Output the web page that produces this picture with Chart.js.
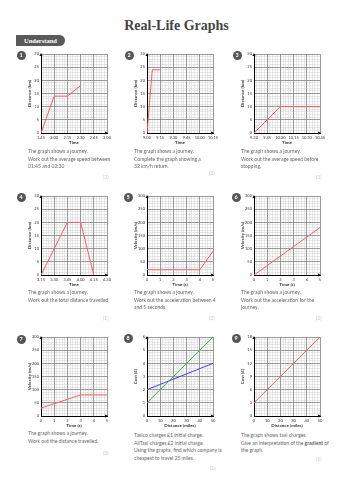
<!DOCTYPE html>
<html>
<head>
<meta charset="utf-8">
<script src="https://cdn.jsdelivr.net/npm/chart.js@4.4.1/dist/chart.umd.min.js"></script>
<style>
  body { margin: 0; background: #fff; width: 353px; height: 500px; position: relative; overflow: hidden; font-family: Lato, "Open Sans", sans-serif; }
  .title { position: absolute; left: 0; width: 353px; top: 18px; text-align: center; font-family: "Liberation Serif", serif; font-weight: bold; font-size: 14px; color: #444; }
  .badge { position: absolute; left: 16px; top: 35px; width: 49px; height: 11px; background: #5a5a5a; color: #fff; border-radius: 0 6px 6px 0; font-family: "Liberation Serif", serif; font-weight: bold; font-size: 6.5px; line-height: 11px; text-align: center; }
  .num { position: absolute; width: 9px; height: 9px; border-radius: 50%; background: #555; color: #fff; font-size: 5.5px; font-weight: bold; line-height: 9px; text-align: center; }
  canvas { position: absolute; }
  .txt { position: absolute; font-size: 5px; line-height: 7.6px; color: #666; white-space: nowrap; }
  .mark { position: absolute; font-size: 5px; color: #c8c8c8; }
</style>
</head>
<body>
<div class="title">Real-Life Graphs</div>
<div class="badge">Understand</div>

<script>
// ---- data ----
// 1: journey, minutes after 1.45
const j1Minutes = [0, 15, 30, 45];
const j1Km = [0, 14, 14, 18];
const j1TimeTicks = ['1.45', '2.00', '2.15', '2.30', '2.45', '3.00'];
// 2: journey, minutes after 9.00
const j2Minutes = [0, 6, 15];
const j2Km = [0, 24, 24];
const j2TimeTicks = ['9.00', '9.15', '9.30', '9.45', '10.00', '10.15'];
// 3: journey, minutes after 9.30
const j3Minutes = [0, 30, 75];
const j3Km = [0, 10, 10];
const j3TimeTicks = ['9.30', '9.45', '10.00', '10.15', '10.30', '10.45'];
// 4: journey, minutes after 3.15
const j4Minutes = [0, 30, 45, 60];
const j4Km = [0, 20, 20, 0];
const j4TimeTicks = ['3.15', '3.30', '3.45', '4.00', '4.15', '4.30'];
// 5-7: velocity-time
const v5Seconds = [0, 4, 5];
const v5Velocity = [20, 20, 90];
const v6Seconds = [0, 5];
const v6Velocity = [0, 180];
const v7Seconds = [0, 3, 5];
const v7Velocity = [30, 80, 80];
// 8: taxi companies
const taxicoMiles = [0, 50];
const taxicoCost = [1, 6];
const allTaxiMiles = [0, 50];
const allTaxiCost = [2, 4];
// 9: taxi charges
const taxiMiles = [0, 50];
const taxiCost = [3, 18];

const RED = '#f06068', GREEN = '#4caf50', BLUE = '#4040f0';
const tickFont = { family: 'Lato', size: 4 };
const titleFont = { family: 'Lato', size: 4.5, weight: 'bold' };

const colX = [41, 147, 254];
const rowY = [54, 196, 337];
const PW = 66, PH = 79;

const arrows = {
  id: 'arrows',
  afterDraw(chart) {
    const { ctx, chartArea: a } = chart;
    ctx.save();
    ctx.fillStyle = '#000';
    ctx.beginPath();
    ctx.moveTo(a.left - 1.5, a.top + 2); ctx.lineTo(a.left + 1.5, a.top + 2); ctx.lineTo(a.left, a.top - 1); ctx.fill();
    ctx.beginPath();
    ctx.moveTo(a.right - 2, a.bottom - 1.5); ctx.lineTo(a.right - 2, a.bottom + 1.5); ctx.lineTo(a.right + 1, a.bottom); ctx.fill();
    ctx.restore();
  }
};

function pts(xs, ys) { return xs.map((x, i) => ({ x: x, y: ys[i] })); }

function panel(col, row, o) {
  const cv = document.createElement('canvas');
  cv.width = PW + 28; cv.height = PH + 16;
  cv.style.left = (colX[col] - 22) + 'px';
  cv.style.top = (rowY[row] - 4) + 'px';
  document.body.appendChild(cv);
  new Chart(cv.getContext('2d'), {
    type: 'line',
    data: { datasets: o.sets.map(s => ({ data: s.data, borderColor: s.color, borderWidth: 1, pointRadius: 0, tension: 0 })) },
    options: {
      responsive: false, animation: false, devicePixelRatio: 1,
      layout: { padding: { left: 8, top: 4, right: 6, bottom: 0 } },
      plugins: { legend: { display: false }, tooltip: { enabled: false } },
      scales: {
        xm: { type: 'linear', position: 'bottom', min: o.x[0], max: o.x[1], z: -2,
          ticks: { display: false, stepSize: o.x[3] }, grid: { color: '#d0d0d0', lineWidth: 0.5, drawTicks: false },
          border: { display: false }, afterFit: s => { s.height = 0; s.paddingLeft = 0; s.paddingRight = 0; } },
        ym: { type: 'linear', position: 'left', min: o.y[0], max: o.y[1], z: -2,
          ticks: { display: false, stepSize: o.y[3] }, grid: { color: '#d0d0d0', lineWidth: 0.5, drawTicks: false },
          border: { display: false }, afterFit: s => { s.width = 0; s.paddingTop = 0; s.paddingBottom = 0; } },
        x: { type: 'linear', position: 'bottom', min: o.x[0], max: o.x[1], z: -1,
          ticks: { stepSize: o.x[2], font: tickFont, color: '#333', padding: 2, maxRotation: 0, autoSkip: false,
            callback: (v, i) => o.xLabels ? o.xLabels[i] : v },
          grid: { color: '#7a7a7a', lineWidth: 0.7, drawTicks: false },
          border: { color: '#000', width: 1 },
          title: { display: true, text: o.xTitle, font: titleFont, color: '#333', padding: 0 },
          afterFit: s => { s.height = 12; s.paddingLeft = 0; s.paddingRight = 0; } },
        y: { type: 'linear', position: 'left', min: o.y[0], max: o.y[1], z: -1,
          ticks: { stepSize: o.y[2], font: tickFont, color: '#333', padding: 2 },
          grid: { color: '#7a7a7a', lineWidth: 0.7, drawTicks: false },
          border: { color: '#000', width: 1 },
          title: { display: true, text: o.yTitle, font: titleFont, color: '#333', padding: 0 },
          afterFit: s => { s.width = 14; s.paddingTop = 0; s.paddingBottom = 0; } }
      }
    },
    plugins: [arrows]
  });
}

function label(n, x, y) {
  const d = document.createElement('div');
  d.className = 'num'; d.textContent = n;
  d.style.left = (x - 4.5) + 'px'; d.style.top = (y - 4.5) + 'px';
  document.body.appendChild(d);
}
function text(html, x, y) {
  const d = document.createElement('div');
  d.className = 'txt'; d.innerHTML = html;
  d.style.left = x + 'px'; d.style.top = (y - 3.8) + 'px';
  document.body.appendChild(d);
}
function mark(m, x, y) {
  const d = document.createElement('div');
  d.className = 'mark'; d.textContent = m;
  d.style.left = (x - 4) + 'px'; d.style.top = (y - 3) + 'px';
  document.body.appendChild(d);
}

const distAxes = { y: [0, 30, 5, 1], yTitle: 'Distance (km)', xTitle: 'Time' };
const velAxes = { x: [0, 5, 1, 0.2], y: [0, 300, 50, 10], yTitle: 'Velocity (m/s)', xTitle: 'Time (s)' };

panel(0, 0, { ...distAxes, x: [0, 75, 15, 3], xLabels: j1TimeTicks, sets: [{ data: pts(j1Minutes, j1Km), color: RED }] });
panel(1, 0, { ...distAxes, x: [0, 75, 15, 3], xLabels: j2TimeTicks, sets: [{ data: pts(j2Minutes, j2Km), color: RED }] });
panel(2, 0, { ...distAxes, x: [0, 75, 15, 3], xLabels: j3TimeTicks, sets: [{ data: pts(j3Minutes, j3Km), color: RED }] });
panel(0, 1, { ...distAxes, x: [0, 75, 15, 3], xLabels: j4TimeTicks, sets: [{ data: pts(j4Minutes, j4Km), color: RED }] });
panel(1, 1, { ...velAxes, sets: [{ data: pts(v5Seconds, v5Velocity), color: RED }] });
panel(2, 1, { ...velAxes, sets: [{ data: pts(v6Seconds, v6Velocity), color: RED }] });
panel(0, 2, { ...velAxes, sets: [{ data: pts(v7Seconds, v7Velocity), color: RED }] });
panel(1, 2, { x: [0, 50, 10, 2], y: [0, 6, 1, 0.2], yTitle: 'Cost (£)', xTitle: 'Distance (miles)',
  sets: [{ data: pts(taxicoMiles, taxicoCost), color: GREEN }, { data: pts(allTaxiMiles, allTaxiCost), color: BLUE }] });
panel(2, 2, { x: [0, 50, 10, 2], y: [0, 18, 3, 0.6], yTitle: 'Cost (£)', xTitle: 'Distance (miles)',
  sets: [{ data: pts(taxiMiles, taxiCost), color: RED }] });

label(1, 21, 55); label(2, 129, 55); label(3, 237, 55);
label(4, 21, 197); label(5, 128, 197); label(6, 236, 197);
label(7, 21, 339); label(8, 128, 338); label(9, 236, 338);

text('The graph shows a journey.<br>Work out the average speed between<br>01:45 and 02:30', 28, 152);
text('The graph shows a journey.<br>Complete the graph showing a<br>32 km/h return.', 134, 152);
text('The graph shows a journey.<br>Work out the average speed before<br>stopping.', 241, 152);
text('The graph shows a journey.<br>Work out the total distance travelled', 28, 293);
text('The graph shows a journey.<br>Work out the acceleration between 4<br>and 5 seconds.', 134, 293);
text('The graph shows a journey.<br>Work out the acceleration for the<br>journey.', 241, 293);
text('The graph shows a journey.<br>Work out the distance travelled.', 28, 434);
text('Taxico charges £1 initial charge.<br>AllTaxi charges £2 initial charge.<br>Using the graphs, find which company is<br>cheapest to travel 25 miles.', 134, 436);
text('The graph shows taxi charges.<br>Give an interpretation of the <b>gradient</b> of<br>the graph.', 241, 436);

mark('(2)', 107, 177); mark('(2)', 213, 173); mark('(3)', 320, 177);
mark('(1)', 107, 318); mark('(2)', 213, 318); mark('(2)', 320, 318);
mark('(3)', 107, 453); mark('(1)', 214, 468); mark('(1)', 320, 459);
</script>
</body>
</html>
